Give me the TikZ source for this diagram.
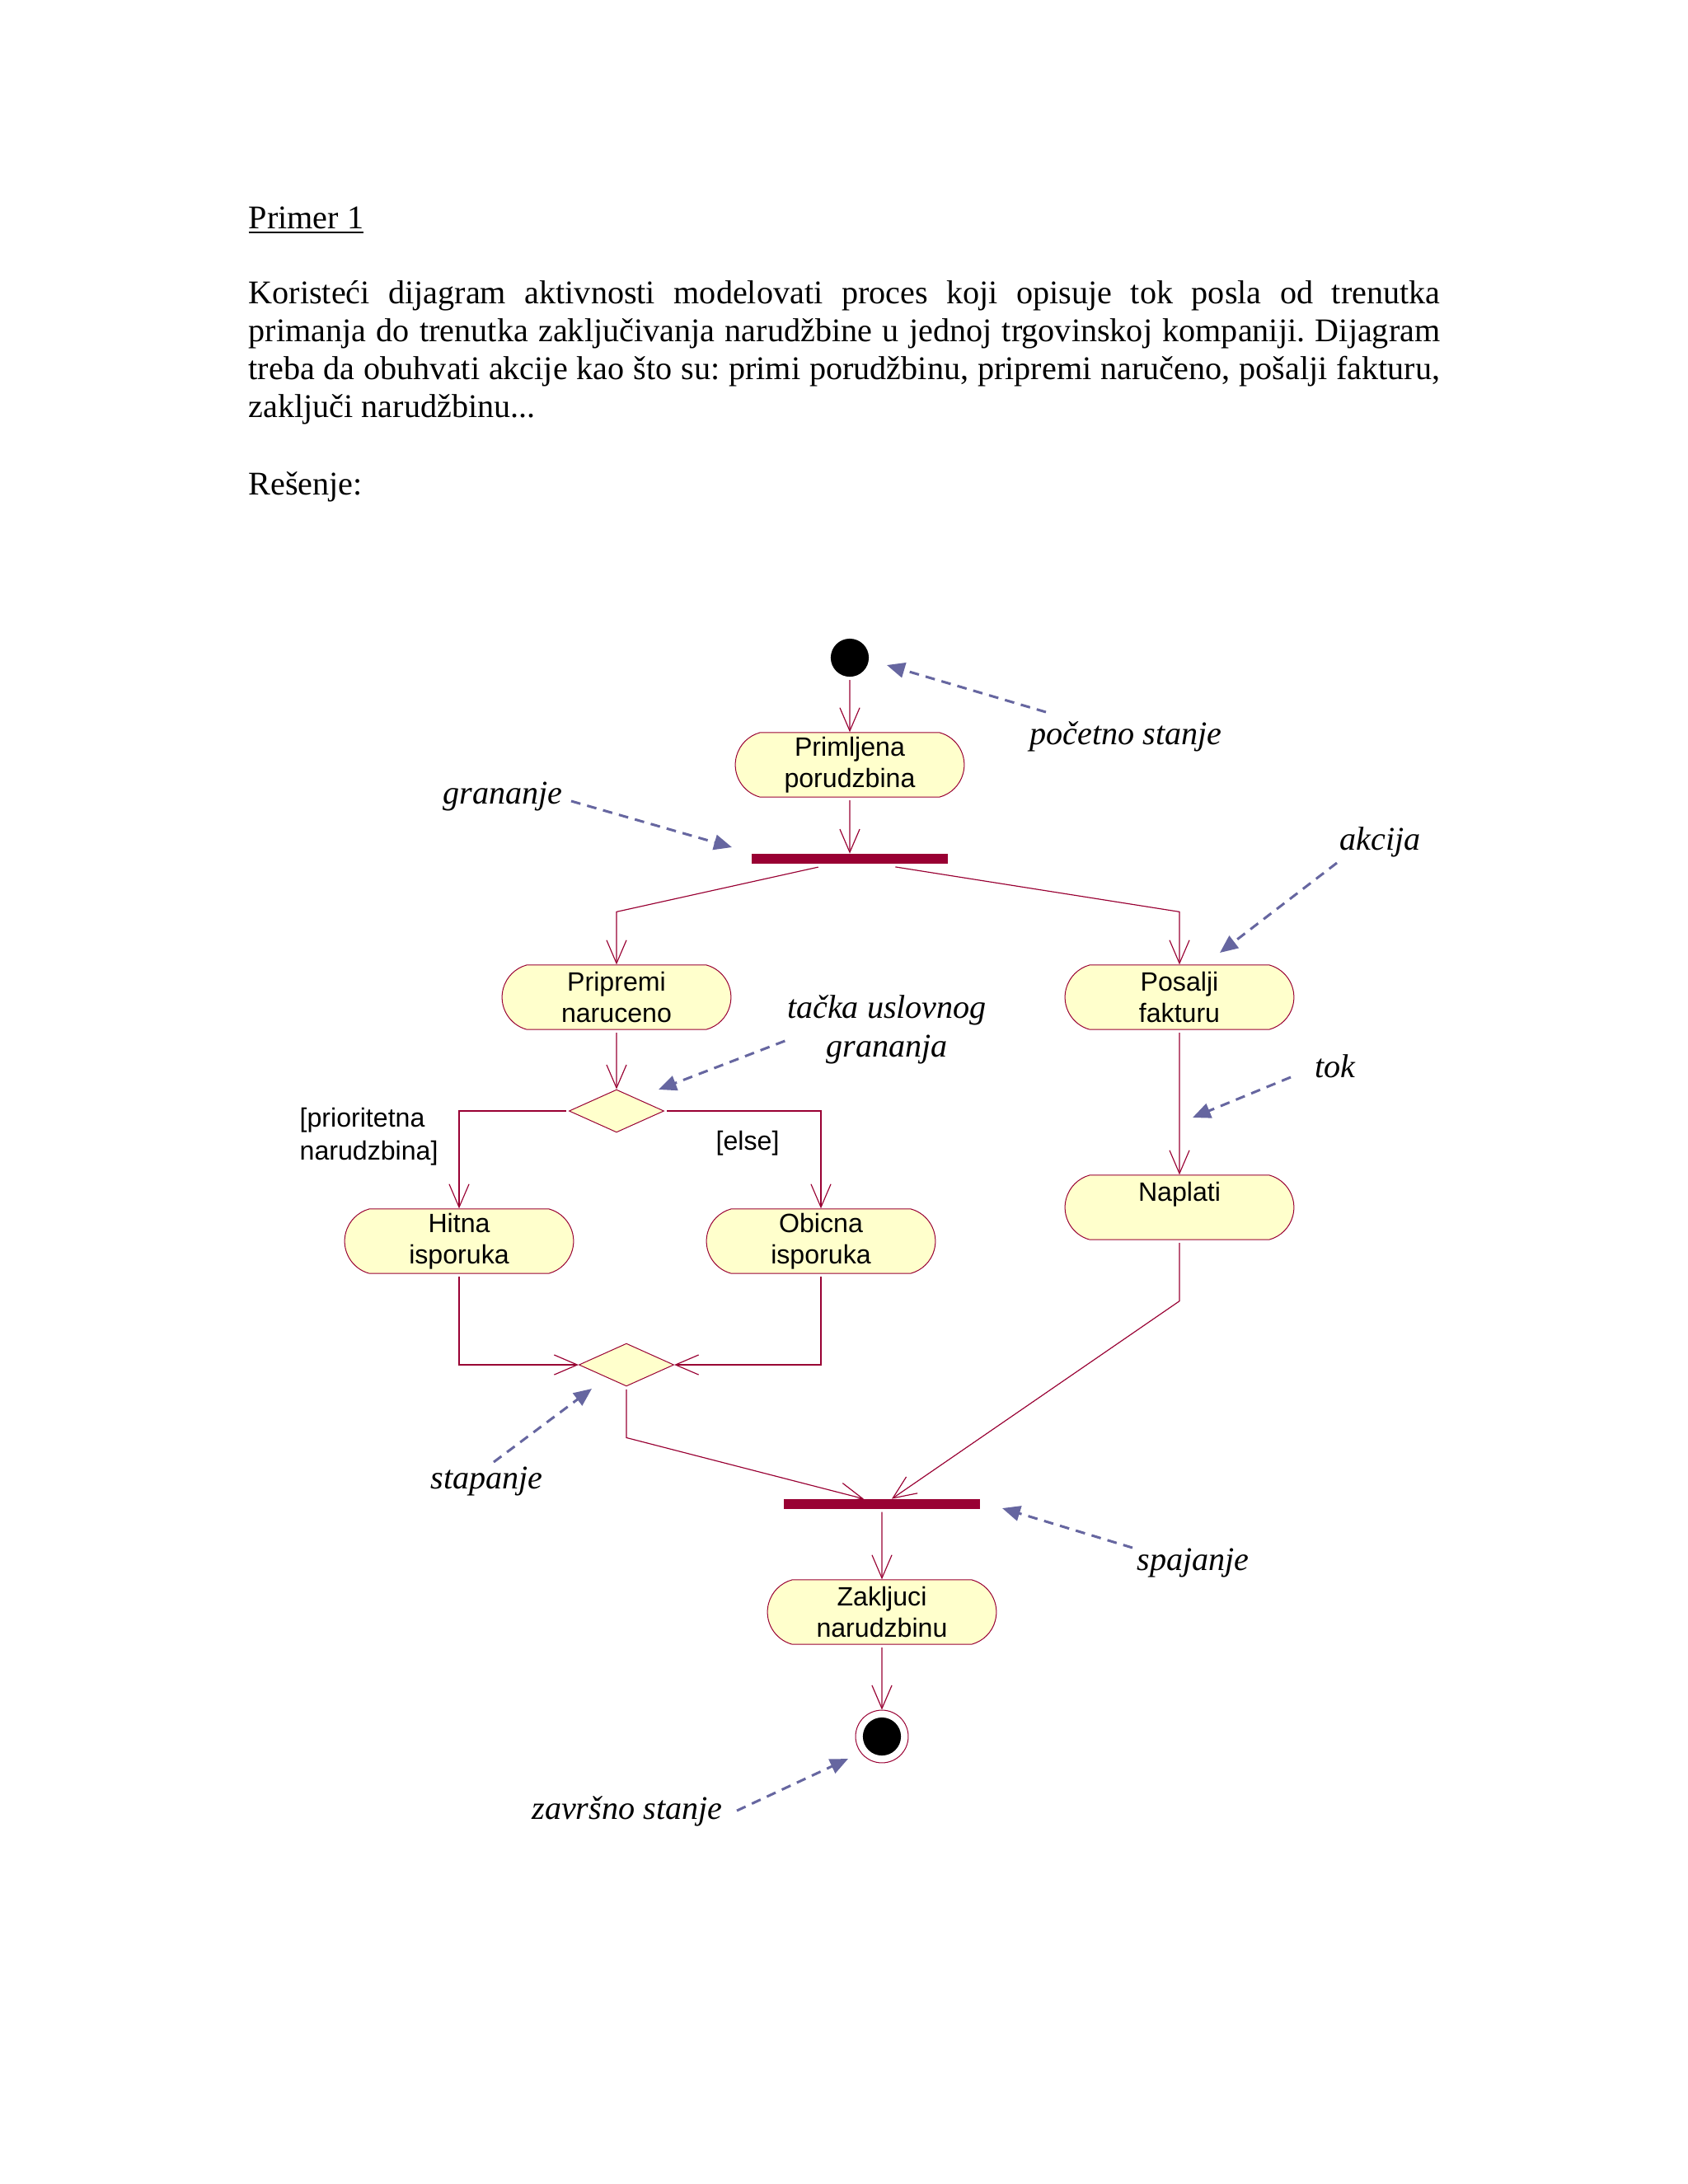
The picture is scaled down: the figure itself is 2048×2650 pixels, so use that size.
\documentclass[tikz,border=0pt]{standalone}
\usepackage{fontspec}
\setmainfont{Liberation Serif}
\newfontfamily\rosefont{Liberation Sans}
\usetikzlibrary{calc}
\usetikzlibrary{shapes.misc,shapes.geometric}
\usetikzlibrary{arrows.meta}
\definecolor{roseyellow}{RGB}{255,255,204}
\definecolor{rosered}{RGB}{153,0,51}
\definecolor{noteblue}{RGB}{102,102,160}
\tikzset{
  akcija/.style={rounded rectangle, rounded rectangle arc length=150, draw=rosered, line width=0.3pt,
    fill=roseyellow, minimum width=83pt, minimum height=23.4pt, inner sep=0pt, align=center,
    font=\rosefont\fontsize{9.6}{11.4}\selectfont},
  uslovni/.style={diamond, aspect=2.2, draw=rosered, line width=0.3pt, fill=roseyellow,
    minimum width=34.4pt, minimum height=15.5pt, inner sep=0pt},
  linija/.style={rectangle, fill=rosered, minimum width=71pt, minimum height=3.4pt, inner sep=0pt},
  pocetno/.style={circle, fill=black, minimum size=13.8pt, inner sep=0pt},
  zavrsno/.style={circle, draw=rosered, line width=0.3pt, fill=white, minimum size=19.1pt, inner sep=0pt,
    path picture={\fill[black] (path picture bounding box.center) circle (6.9pt);}},
  prelaz/.style={draw=rosered, line width=0.35pt, shorten <=1pt, -{Straight Barb[length=8.4pt,width=7.2pt]}},
  uslov/.style={font=\rosefont\fontsize{9.6}{11.7}\selectfont, inner sep=0pt, anchor=base west, align=left},
  oznaka/.style={font=\fontsize{12}{14}\selectfont\itshape, inner sep=0pt, anchor=base west},
  napomena/.style={draw=noteblue, line width=0.9pt, dash pattern=on 3.5pt off 2.5pt,
    -{Triangle[length=6.5pt,width=5.5pt]}}
}

\begin{document}
\begin{tikzpicture}[x=0.29883pt, y=-0.29883pt, font=\fontsize{12}{13.8}\selectfont]
    \fill[white] (0,0) rectangle (2048,2650);
    \useasboundingbox (0,0) rectangle (2048,2650);

    % tekst zadatka
    \node[anchor=base west, inner sep=0pt] (naslov) at (301,277) {\underline{Primer 1}};
    \node[anchor=base west, inner sep=0pt, text width=432pt, align=justify] (zadatak) at (301,368)
        {\tolerance=10000 \hyphenpenalty=10000 \frenchspacing
        Koristeći dijagram aktivnosti modelovati proces koji opisuje tok posla od trenutka\linebreak
        primanja do trenutka zaključivanja narudžbine u jednoj trgovinskoj kompaniji. Dijagram\linebreak
        treba da obuhvati akcije kao što su: primi porudžbinu, pripremi naručeno, pošalji fakturu,\linebreak
        zaključi narudžbinu...};
    \node[anchor=base west, inner sep=0pt] (resenje) at (301,600) {Rešenje:};

    % dijagram aktivnosti
    \node[pocetno] (pocetak) at (1031,798) {};
    \node[akcija] (primljena) at (1031,928) {Primljena\\porudzbina};
    \node[linija] (grananje) at (1031,1042) {};
    \node[akcija] (pripremi) at (748,1210) {Pripremi\\naruceno};
    \node[akcija] (posalji) at (1431,1210) {Posalji\\fakturu};
    \node[uslovni] (tacka) at (748,1348) {};
    \node[akcija] (hitna) at (557,1506) {Hitna\\isporuka};
    \node[akcija] (obicna) at (996,1506) {Obicna\\isporuka};
    \node[akcija] (naplati) at (1431,1465) {Naplati\\\mbox{}};
    \node[uslovni] (stapanje) at (760,1656) {};
    \node[linija] (spajanje) at (1070,1825) {};
    \node[akcija] (zakljuci) at (1070,1956) {Zakljuci\\narudzbinu};
    \node[zavrsno] (kraj) at (1070,2107) {};

    \draw[prelaz] (pocetak) -- (primljena);
    \draw[prelaz] (primljena) -- (grananje);
    \draw[prelaz] ($(grananje.south)+(-35,3)$) -- ($(pripremi.north)+(0,-64)$) -- (pripremi);
    \draw[prelaz] ($(grananje.south)+(52,3)$) -- ($(posalji.north)+(0,-64)$) -- (posalji);
    \draw[prelaz] (pripremi) -- (tacka);
    \draw[prelaz] (tacka) -| (hitna);
    \draw[prelaz] (tacka) -| (obicna);
    \draw[prelaz] (hitna) |- (stapanje);
    \draw[prelaz] (obicna) |- (stapanje);
    \draw[prelaz] (posalji) -- (naplati);
    \draw[prelaz] (stapanje) -- ($(stapanje.south)+(0,62)$) -- ($(spajanje.north)+(-22,0)$);
    \draw[prelaz] (naplati) -- ($(naplati.south)+(0,74)$) -- ($(spajanje.north)+(12,0)$);
    \draw[prelaz] (spajanje) -- (zakljuci);
    \draw[prelaz] (zakljuci) -- (kraj);

    % uslovi
    \node[uslov] (prioritetna) at (363,1407) {[prioritetna\\narudzbina]};
    \node[uslov] (inace) at (868,1395) {[else]};

    % oznake
    \node[oznaka] (lPocetno) at (1249,903) {početno stanje};
    \node[oznaka, anchor=base east] (lGrananje) at (683,975) {grananje};
    \node[oznaka] (lAkcija) at (1625,1031) {akcija};
    \node[oznaka, anchor=base, align=center] (lTacka) at (1076,1282) {tačka uslovnog\\grananja};
    \node[oznaka] (lTok) at (1595,1307) {tok};
    \node[oznaka] (lStapanje) at (522,1806) {stapanje};
    \node[oznaka] (lSpajanje) at (1379,1905) {spajanje};
    \node[oznaka, anchor=base east] (lZavrsno) at (877,2207) {završno stanje};

    \coordinate (vPocetno) at (1076,807);
    \coordinate (vGrananje) at (888,1028);
    \coordinate (vAkcija) at (1480,1156);
    \coordinate (vTacka) at (799,1322);
    \coordinate (vTok) at (1447,1356);
    \coordinate (vStapanje) at (718,1685);
    \coordinate (vSpajanje) at (1216,1830);
    \coordinate (vZavrsno) at (1029,2134);

    \draw[napomena] ([shift={(20,-39)}]lPocetno.base west) -- (vPocetno);
    \draw[napomena] ([shift={(10,-3)}]lGrananje.base east) -- (vGrananje);
    \draw[napomena] ([shift={(-3,16)}]lAkcija.base west) -- (vAkcija);
    \draw[napomena] ([shift={(-2,-19)}]lTacka.base west) -- (vTacka);
    \draw[napomena] ([shift={(-29,0)}]lTok.base west) -- (vTok);
    \draw[napomena] ([shift={(77,-32)}]lStapanje.base west) -- (vStapanje);
    \draw[napomena] ([shift={(-5,-27)}]lSpajanje.base west) -- (vSpajanje);
    \draw[napomena] ([shift={(17,-10)}]lZavrsno.base east) -- (vZavrsno);
\end{tikzpicture}
\end{document}
